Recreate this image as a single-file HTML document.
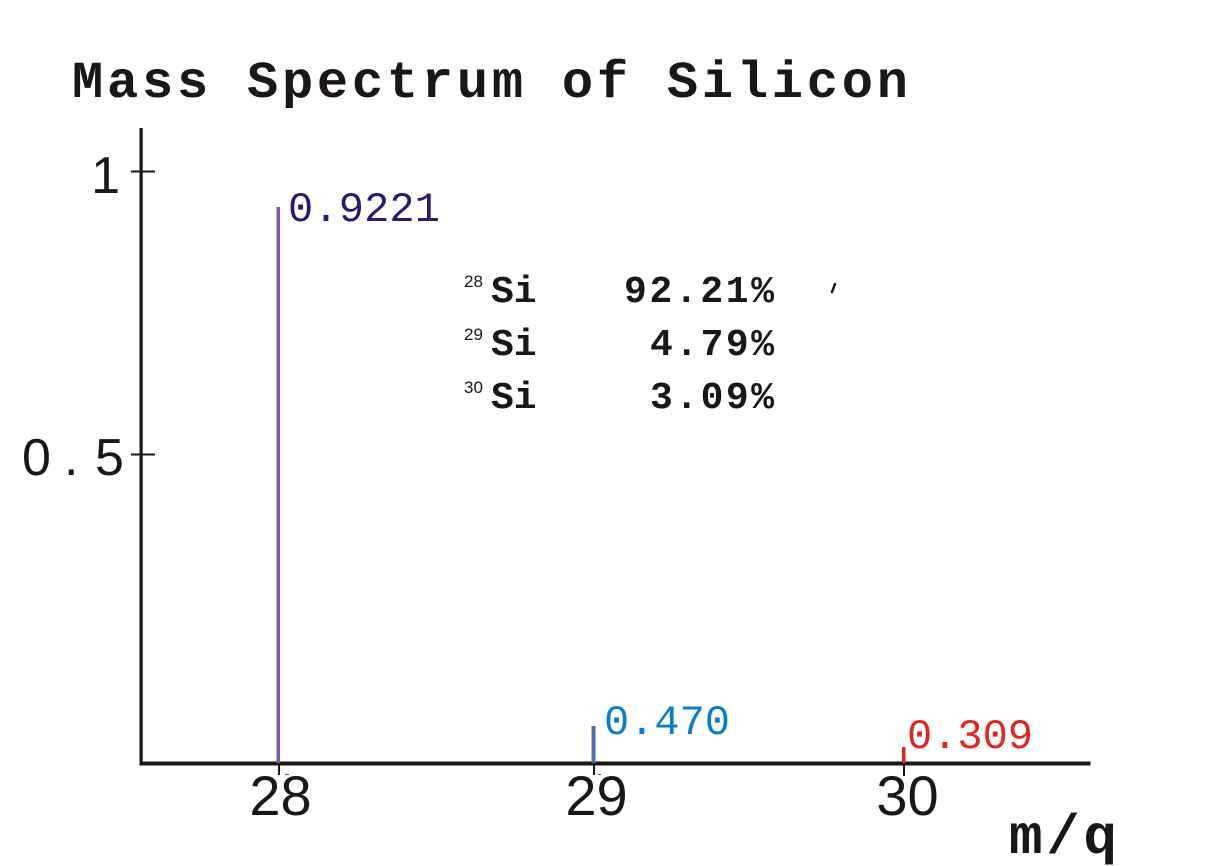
<!DOCTYPE html>
<html>
<head>
<meta charset="utf-8">
<style>
  html, body { margin: 0; padding: 0; background: #ffffff; }
  svg { display: block; }
</style>
</head>
<body>
<svg width="1208" height="866" viewBox="0 0 1208 866" xmlns="http://www.w3.org/2000/svg">
  <rect x="0" y="0" width="1208" height="866" fill="#ffffff"/>

  <!-- Title -->
  <text x="72" y="97" font-family="'Liberation Mono', monospace" font-weight="bold" font-size="52" fill="#1a1716" textLength="836" lengthAdjust="spacing">Mass Spectrum of Silicon</text>

  <!-- Y axis -->
  <rect x="139.5" y="128" width="3.2" height="637" fill="#1a1716"/>
  <!-- Y ticks -->
  <rect x="131" y="170.5" width="24" height="2" fill="#1a1716"/>
  <rect x="131" y="453.5" width="24" height="2" fill="#1a1716"/>
  <!-- Y labels -->
  <text x="120" y="193" text-anchor="end" font-family="'Liberation Sans', sans-serif" font-size="52" fill="#1a1716">1</text>
  <text x="22" y="475" font-family="'Liberation Sans', sans-serif" font-size="52" fill="#1a1716">0</text>
  <text x="64" y="475" font-family="'Liberation Sans', sans-serif" font-size="52" fill="#1a1716">.</text>
  <text x="95" y="475" font-family="'Liberation Sans', sans-serif" font-size="52" fill="#1a1716">5</text>

  <!-- X axis -->
  <rect x="139.5" y="761.5" width="951" height="4" fill="#1a1716"/>
  <!-- X ticks -->
  <rect x="278" y="765" width="2" height="10" fill="#1a1716"/>
  <rect x="593" y="765" width="2" height="10" fill="#1a1716"/>
  <rect x="903" y="765" width="2" height="11" fill="#1a1716"/>
  <!-- tiny marks -->
  <rect x="285" y="774" width="4" height="1" fill="#555"/>
  <rect x="598" y="774" width="3" height="1" fill="#555"/>

  <!-- X labels -->
  <text x="280.5" y="815" text-anchor="middle" font-family="'Liberation Sans', sans-serif" font-size="56" fill="#1a1716">28</text>
  <text x="596.5" y="815" text-anchor="middle" font-family="'Liberation Sans', sans-serif" font-size="56" fill="#1a1716">29</text>
  <text x="907.5" y="815" text-anchor="middle" font-family="'Liberation Sans', sans-serif" font-size="56" fill="#1a1716">30</text>

  <!-- X axis title -->
  <text x="1009" y="853" font-family="'Liberation Mono', monospace" font-weight="bold" font-size="56" fill="#1a1716" textLength="108" lengthAdjust="spacing">m/q</text>

  <!-- Stems -->
  <rect x="276.5" y="207" width="3.5" height="556" fill="#7d5a9b"/>
  <rect x="591.5" y="726" width="4" height="37" fill="#4a6fad"/>
  <rect x="902" y="747" width="3.5" height="16" fill="#e02525"/>

  <!-- Peak labels -->
  <text x="288" y="221" font-family="'Liberation Mono', monospace" font-size="42" fill="#2a1a78" textLength="152" lengthAdjust="spacing">0.9221</text>
  <text x="604" y="734" font-family="'Liberation Mono', monospace" font-size="42" fill="#0a7ecb" textLength="126" lengthAdjust="spacing">0.470</text>
  <text x="907" y="748" font-family="'Liberation Mono', monospace" font-size="42" fill="#e02525" textLength="126" lengthAdjust="spacing">0.309</text>

  <!-- Isotope table -->
  <g font-family="'Liberation Mono', monospace" font-weight="bold" fill="#1a1716">
    <text x="464" y="287" font-family="'Liberation Sans', sans-serif" font-weight="normal" font-size="17">28</text>
    <text x="491" y="302" font-size="38">Si</text>
    <text x="774" y="302" font-size="38" text-anchor="end" textLength="150" lengthAdjust="spacing">92.21%</text>

    <text x="464" y="340" font-family="'Liberation Sans', sans-serif" font-weight="normal" font-size="17">29</text>
    <text x="491" y="355" font-size="38">Si</text>
    <text x="774" y="355" font-size="38" text-anchor="end" textLength="124" lengthAdjust="spacing">4.79%</text>

    <text x="464" y="393" font-family="'Liberation Sans', sans-serif" font-weight="normal" font-size="17">30</text>
    <text x="491" y="408" font-size="38">Si</text>
    <text x="774" y="408" font-size="38" text-anchor="end" textLength="124" lengthAdjust="spacing">3.09%</text>
  </g>

  <!-- stray mark -->
  <path d="M835 284 L832 292" stroke="#1a1716" stroke-width="2.5" stroke-linecap="round"/>
</svg>
</body>
</html>
